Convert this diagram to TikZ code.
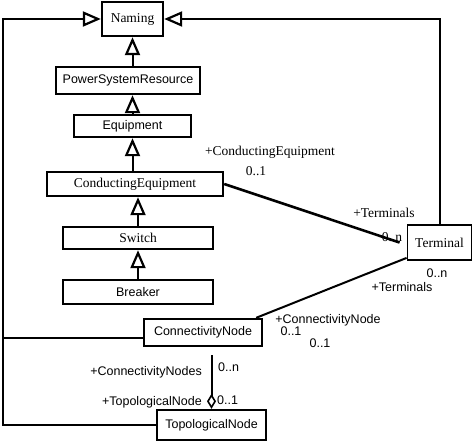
\documentclass[tikz,border=0pt]{standalone}
\usepackage{fontspec}
\setmainfont{Liberation Serif}
\newfontfamily\sansf{Liberation Sans}
\usetikzlibrary{arrows.meta}
\begin{document}
\begin{tikzpicture}[x=1pt,y=-1pt,
  cls/.style={draw, line width=2.4pt, inner sep=0pt, fill=white},
  serifcls/.style={cls, font=\fontsize{13.5}{15}\selectfont},
  sanscls/.style={cls, font=\sansf\fontsize{12.5}{14}\selectfont},
  serl/.style={inner sep=0pt, font=\fontsize{13.5}{15}\selectfont},
  sanl/.style={inner sep=0pt, font=\sansf\fontsize{12.5}{14}\selectfont},
  gen/.style={line width=2pt, -{Triangle[open, length=18pt, width=15pt, line width=2.2pt]}},
  assoc/.style={line width=2pt},
  agg/.style={line width=2pt, -{Diamond[open, length=15pt, width=9pt, line width=1.6pt]}}
]
\useasboundingbox (0,0) rectangle (474,444);
\coordinate (L) at (3,0);

\node[serifcls, minimum width=61pt, minimum height=34pt] (Naming) at (132.5,19) {Naming};
\node[sanscls, minimum width=144pt, minimum height=27pt] (PSR) at (128,80.5) {PowerSystemResource};
\node[sanscls, minimum width=117pt, minimum height=22pt] (Equipment) at (132.5,126) {Equipment};
\node[serifcls, minimum width=176pt, minimum height=24pt] (CE) at (135,184) {ConductingEquipment};
\node[serifcls, minimum width=150pt, minimum height=22pt] (Switch) at (138,238) {Switch};
\node[sanscls, minimum width=150pt, minimum height=24pt] (Breaker) at (138,292) {Breaker};
\node[sanscls, minimum width=118pt, minimum height=27pt] (CN) at (203,332.5) {ConnectivityNode};
\node[sanscls, minimum width=109pt, minimum height=30pt] (TN) at (211.5,425) {TopologicalNode};
\node[serifcls, line width=1.8pt, minimum width=64pt, minimum height=35pt] (Terminal) at (439.5,242.5) {Terminal};

% generalizations
\draw[gen] (PSR.north -| Naming.south) -- (Naming.south);
\draw[gen] (Equipment.north) -- (Equipment.north |- PSR.south);
\draw[gen] (CE.north -| Equipment.south) -- (Equipment.south);
\draw[gen] (Switch.north) -- (Switch.north |- CE.south);
\draw[gen] (Breaker.north) -- (Switch.south);
\draw[gen] (TN.west) -| (L |- Naming.west) -- (Naming.west);
\draw[assoc] ([yshift=-5pt]CN.west) -- ([yshift=-5pt]CN.west -| L);
\draw[gen] (Terminal.north) |- (Naming.east);

% associations
\draw[line width=2.6pt] (CE.east) -- ([xshift=-7pt]Terminal.west);
\draw[assoc] ([yshift=3pt]Terminal.south west) -- ([xshift=-7pt]CN.north east);
\draw[agg, shorten <=8pt] (TN.north |- CN.south) -- (TN.north);

% labels
\node[serl] (lCE) at (270,152) {+ConductingEquipment};
\node[serl] (lCEm) at (256,171) {0..1};
\node[serl] (lTu) at (384,213) {+Terminals};
\node[serl] (lTum) at (392,237) {0..n};
\node[sanl] (lTlm) at (437,273) {0..n};
\node[sanl] (lTl) at (402,287) {+Terminals};
\node[sanl] (lCNr) at (328,320) {+ConnectivityNode};
\node[sanl] (lCNm1) at (291,331) {0..1};
\node[sanl] (lCNm2) at (320,343) {0..1};
\node[sanl, anchor=east] (lCNs) at (202,372) {+ConnectivityNodes};
\node[sanl, anchor=west] (lCNsm) at (218,367) {0..n};
\node[sanl, anchor=east] (lTN) at (202,402) {+TopologicalNode};
\node[sanl, anchor=west] (lTNm) at (217,400) {0..1};
\end{tikzpicture}
\end{document}
